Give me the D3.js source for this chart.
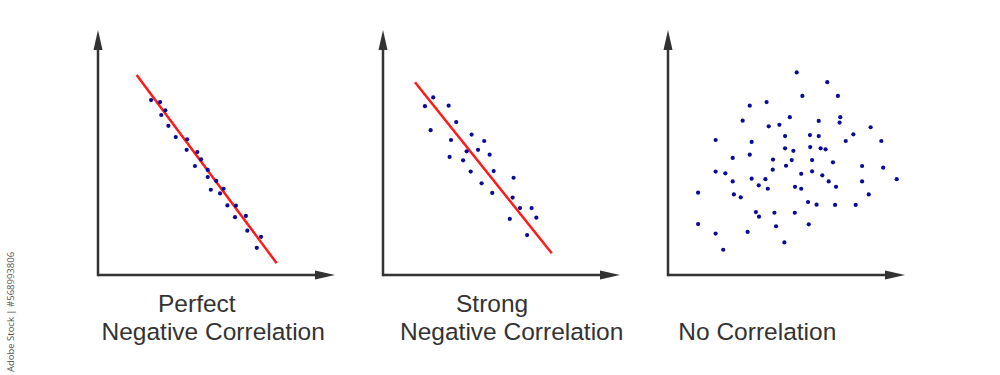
<!DOCTYPE html>
<html>
<head>
<meta charset="utf-8">
<script src="https://cdn.jsdelivr.net/npm/d3@7"></script>
<style>
  body { margin: 0; background: #fff; }
  svg { display: block; }
</style>
</head>
<body>
<svg id="chart"></svg>
<script>
// panel data, axes run 0..100 on both sides
var perfectPts = [
  [22.4, 71.4], [26.2, 70.6], [28.4, 67.2], [26.7, 65.3], [29.7, 60.9], [32.8, 56.3],
  [37.6, 55.4], [37.4, 51.1], [41.9, 50.2], [43.5, 47.2], [40.9, 44.5], [46.3, 42.9],
  [46.3, 40.0], [49.9, 38.4], [53.0, 35.2], [47.6, 34.8], [51.5, 33.3], [54.6, 28.4],
  [58.2, 28.3], [62.4, 24.1], [57.8, 23.6], [63.0, 18.1], [68.8, 15.6], [67.0, 11.1]
]
var perfectLine = [[16.3, 81.6], [75.4, 4.8]]

var strongPts = [
  [21.2, 72.5], [17.7, 68.9], [27.7, 69.1], [30.9, 62.4], [20.1, 59.1], [37.4, 57.3],
  [28.7, 55.1], [42.7, 54.7], [40.1, 51.1], [35.3, 50.5], [45.0, 49.1], [28.1, 48.2],
  [33.8, 46.8], [46.7, 42.4], [37.0, 42.2], [55.1, 39.7], [41.6, 37.4], [46.1, 33.5],
  [54.7, 31.6], [57.8, 27.3], [62.7, 27.3], [64.7, 23.4], [53.5, 22.9], [60.8, 16.3]
]
var strongLine = [[13.5, 78.7], [71.2, 8.9]]

var nonePts = [
  [54.3, 82.7], [67.2, 78.7], [56.7, 73.1], [71.7, 73.1], [41.6, 70.6], [34.5, 69.1],
  [51.4, 64.4], [72.7, 64.4], [31.5, 63.0], [63.6, 62.9], [72.4, 62.2], [47.0, 61.3],
  [42.5, 60.7], [85.5, 60.3], [78.2, 57.4], [59.9, 57.1], [63.6, 56.7], [49.4, 56.7],
  [20.1, 55.1], [75.0, 54.7], [90.0, 54.7], [35.3, 54.3], [60.0, 52.2], [49.4, 51.7],
  [64.4, 51.7], [66.5, 51.3], [52.9, 50.7], [34.5, 49.1], [27.3, 47.8], [44.3, 47.1],
  [60.8, 46.9], [52.2, 46.9], [69.6, 46.0], [49.8, 44.6], [81.9, 44.5], [90.8, 43.8],
  [44.2, 43.0], [20.1, 42.2], [60.8, 42.3], [24.2, 41.5], [56.2, 41.3], [65.1, 40.7],
  [35.3, 39.3], [41.1, 39.1], [96.5, 39.1], [27.3, 38.2], [67.8, 38.2], [81.9, 38.2],
  [38.3, 36.6], [53.6, 36.0], [70.9, 36.0], [42.1, 35.2], [56.2, 35.2], [12.7, 33.6],
  [84.7, 32.9], [27.8, 32.9], [30.7, 31.7], [59.1, 29.8], [62.7, 28.7], [70.5, 28.6],
  [79.2, 28.6], [37.1, 25.7], [44.9, 25.4], [53.5, 25.4], [38.4, 23.8], [12.7, 20.8],
  [59.4, 20.7], [45.6, 19.9], [20.1, 16.9], [33.6, 17.6], [49.1, 13.3], [23.3, 10.3]
]

var captions = [
  ["Perfect", "Negative Correlation"],
  ["Strong", "Negative Correlation"],
  ["No Correlation"]
]

var panels = [
  { pts: perfectPts, line: perfectLine, text: captions[0] },
  { pts: strongPts, line: strongLine, text: captions[1] },
  { pts: nonePts, line: null, text: captions[2] }
]

var W = 1000, H = 375
var margin = { left: 98, top: 30, gap: 285 },
    plot_w = 237, plot_h = 245

var svg = d3.select("#chart").attr("width", W).attr("height", H)

var xScale = d3.scaleLinear().domain([0, 100]).range([0, plot_w])
var yScale = d3.scaleLinear().domain([0, 100]).range([plot_h, 0])
var axisColor = "#333333", arrowLen = 20, arrowHalf = 4.5

// caption placement (line starts, relative to the y axis)
var captionX = [[60, 3.5], [73, 17], [10.3]]
var captionY = [281.7, 310]

var panel_g = svg.selectAll(".panel").data(panels).join("g").attr("class", "panel")
    .attr("transform", (d, i) => "translate(" + (margin.left + i * margin.gap) + "," + margin.top + ")")

panel_g.each(function (d, i) {
    var g = d3.select(this)
    // axes (no ticks) from d3, then trimmed to leave room for the arrowheads
    var xAxisG = g.append("g").attr("transform", "translate(0," + plot_h + ")")
        .call(d3.axisBottom(xScale).tickValues([]).tickSizeOuter(0))
    xAxisG.select(".domain").attr("d", "M0,0H" + (xScale(100) - arrowLen + 2)).attr("stroke", axisColor).attr("stroke-width", 2.5)
    var yAxisG = g.append("g")
        .call(d3.axisLeft(yScale).tickValues([]).tickSizeOuter(0))
    yAxisG.select(".domain").attr("d", "M0," + (plot_h + 1.25) + "V" + (yScale(100) + arrowLen - 2)).attr("stroke", axisColor).attr("stroke-width", 2.5)

    // arrowheads
    var xe = xScale(100), ye = yScale(100)
    g.append("path").attr("fill", axisColor)
        .attr("d", "M" + xe + "," + plot_h + "L" + (xe - arrowLen) + "," + (plot_h - arrowHalf) + "L" + (xe - arrowLen) + "," + (plot_h + arrowHalf) + "Z")
    g.append("path").attr("fill", axisColor)
        .attr("d", "M0," + ye + "L" + (-arrowHalf) + "," + (ye + arrowLen) + "L" + arrowHalf + "," + (ye + arrowLen) + "Z")

    // regression line
    if (d.line) {
        var lineGenerator = d3.line().x(p => xScale(p[0])).y(p => yScale(p[1]))
        g.append("path").attr("d", lineGenerator(d.line)).attr("stroke", "#ff1a1a").attr("stroke-width", 2.5).attr("fill", "none")
    }

    // points
    g.selectAll("circle").data(d.pts).join("circle")
        .attr("cx", p => xScale(p[0]))
        .attr("cy", p => yScale(p[1]))
        .attr("r", 2.1)
        .attr("fill", "#0a0a96")

    // caption
    var lines = d.text
    var yIdx = lines.length == 1 ? [1] : [0, 1]
    g.selectAll(".caption").data(lines).join("text").attr("class", "caption")
        .attr("x", (t, j) => captionX[i][j])
        .attr("y", (t, j) => captionY[yIdx[j]])
        .attr("font-family", "Liberation Sans, Arial, sans-serif")
        .attr("font-size", 24.5)
        .attr("fill", "#333")
        .text(t => t)
})

// stock id on the left edge
svg.append("text")
    .attr("transform", "translate(14,312) rotate(-90)")
    .attr("text-anchor", "middle")
    .attr("font-family", "Open Sans, DejaVu Sans, sans-serif")
    .attr("font-size", 9.5)
    .attr("fill", "#555")
    .text("Adobe Stock | #568993806")
</script>
</body>
</html>
